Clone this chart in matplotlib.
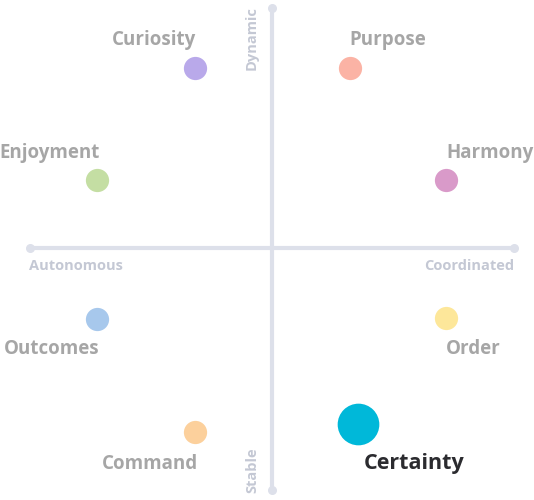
import matplotlib.pyplot as plt

plt.rcParams['font.family'] = ['Open Sans', 'DejaVu Sans']

# positions relative to centre (x right, y up), in chart units
names = ["Curiosity", "Purpose", "Enjoyment", "Harmony", "Outcomes", "Order", "Command", "Certainty"]
xs = [-77, 78, -175, 174, -175, 174, -77, 86]
ys = [180, 180, 68, 68, -71, -70, -184, -176]
colors = ["#b9a9ea", "#fbb3a5", "#c4dea3", "#d99ac9", "#a7c8ec", "#fde79a", "#fcd09c", "#00b8d9"]
label_dx = [-41, 38, -47, 44, -45, 27, -45, 56]
label_dy = [28, 28, 27, 27, -30, -31, -32, -39]

fig = plt.figure(figsize=(5.34, 5.0), dpi=100)
ax = fig.add_axes([0, 0, 1, 1])
ax.set_xlim(-272, 262)
ax.set_ylim(-252, 248)
ax.axis("off")

line_c = "#dde0ea"
ax.plot([-242, 242], [0, 0], color=line_c, lw=3, zorder=1)
ax.plot([0, 0], [-242, 240], color=line_c, lw=3, zorder=1)
ax.scatter([-242, 242, 0, 0], [0, 0, -242, 240], s=30, color=line_c, zorder=1)

ax_c = "#c4c8d4"
ax.text(-20, 210, "Dynamic", rotation=90, ha="center", va="center", color=ax_c, fontsize=10.5, fontweight="bold")
ax.text(-20, -222, "Stable", rotation=90, ha="center", va="center", color=ax_c, fontsize=10.5, fontweight="bold")
ax.text(-196, -18, "Autonomous", ha="center", va="center", color=ax_c, fontsize=10.5, fontweight="bold")
ax.text(197, -18, "Coordinated", ha="center", va="center", color=ax_c, fontsize=10.5, fontweight="bold")

for i, n in enumerate(names):
    big = n == "Certainty"
    ax.scatter(xs[i], ys[i], s=900 if big else 280, color=colors[i], zorder=3, linewidths=0)
    ax.text(xs[i] + label_dx[i], ys[i] + label_dy[i], n, ha="center", va="center",
            color="#2b2b2f" if big else "#a6a6a6", fontsize=15.5 if big else 13.5, fontweight="bold")

fig.savefig("out.png", dpi=100)
